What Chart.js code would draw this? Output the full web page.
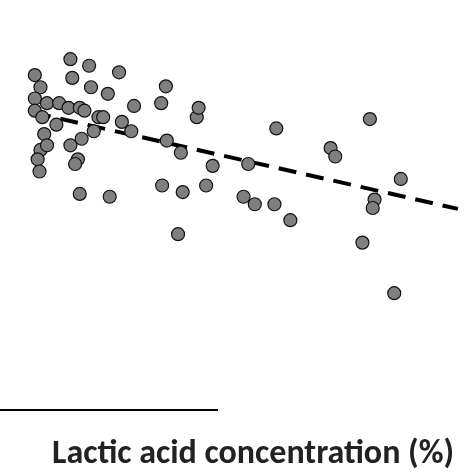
<!DOCTYPE html>
<html>
<head>
<meta charset="utf-8">
<script src="https://cdn.jsdelivr.net/npm/chart.js@4"></script>
<style>
  body { margin: 0; background: #fff; }
  #wrap { position: relative; width: 474px; height: 474px; overflow: hidden; }
  #axisLine { position: absolute; left: 0; top: 409px; width: 218px; height: 2px; background: #000; }
  #xTitle { position: absolute; left: 52px; top: 431px; white-space: nowrap;
    font: bold 34px Calibri, Carlito, "Liberation Sans", sans-serif; color: #222; }
</style>
</head>
<body>
<div id="wrap">
  <canvas id="c" width="474" height="474"></canvas>
  <div id="axisLine"></div>
  <div id="xTitle">Lactic acid concentration (%)</div>
</div>
<script>
// scatter values (x = concentration, y = response)
const pointsX = [22,28,22,35,22,30,45,32,28,25,27,35,48,60,62,58,70,80,82,75,90,100,112,95,68,65,70,102,60,72,85,115,125,128,157,162,195,197,163,178,158,180,175,205,212,250,245,257,280,278,295,338,343,380,385,383,372,413,406];
const pointsY = [65,78,90,95,103,110,118,128,145,155,168,140,95,48,68,100,100,55,78,103,110,85,62,110,155,160,192,195,140,133,125,115,125,98,95,77,110,100,135,148,183,190,235,183,162,160,195,203,122,203,220,143,152,112,198,207,244,176,298];
const trendX = [20, 474];
const trendY = [105, 208];

new Chart(document.getElementById('c'), {
  type: 'scatter',
  data: {
    datasets: [
      {
        data: pointsX.map((x, i) => ({ x, y: pointsY[i] })),
        backgroundColor: '#7f7f7f',
        borderColor: '#111',
        borderWidth: 1.2,
        pointRadius: 6.5
      },
      {
        type: 'line',
        data: trendX.map((x, i) => ({ x, y: trendY[i] })),
        borderColor: '#000',
        borderWidth: 4,
        borderDash: [18, 10],
        pointRadius: 0,
        fill: false
      }
    ]
  },
  options: {
    responsive: false,
    animation: false,
    layout: { padding: 0 },
    plugins: { legend: { display: false }, tooltip: { enabled: false } },
    scales: {
      x: { type: 'linear', min: -7, max: 483, display: false },
      y: { type: 'linear', min: -7, max: 483, reverse: true, display: false }
    }
  }
});
</script>
</body>
</html>
